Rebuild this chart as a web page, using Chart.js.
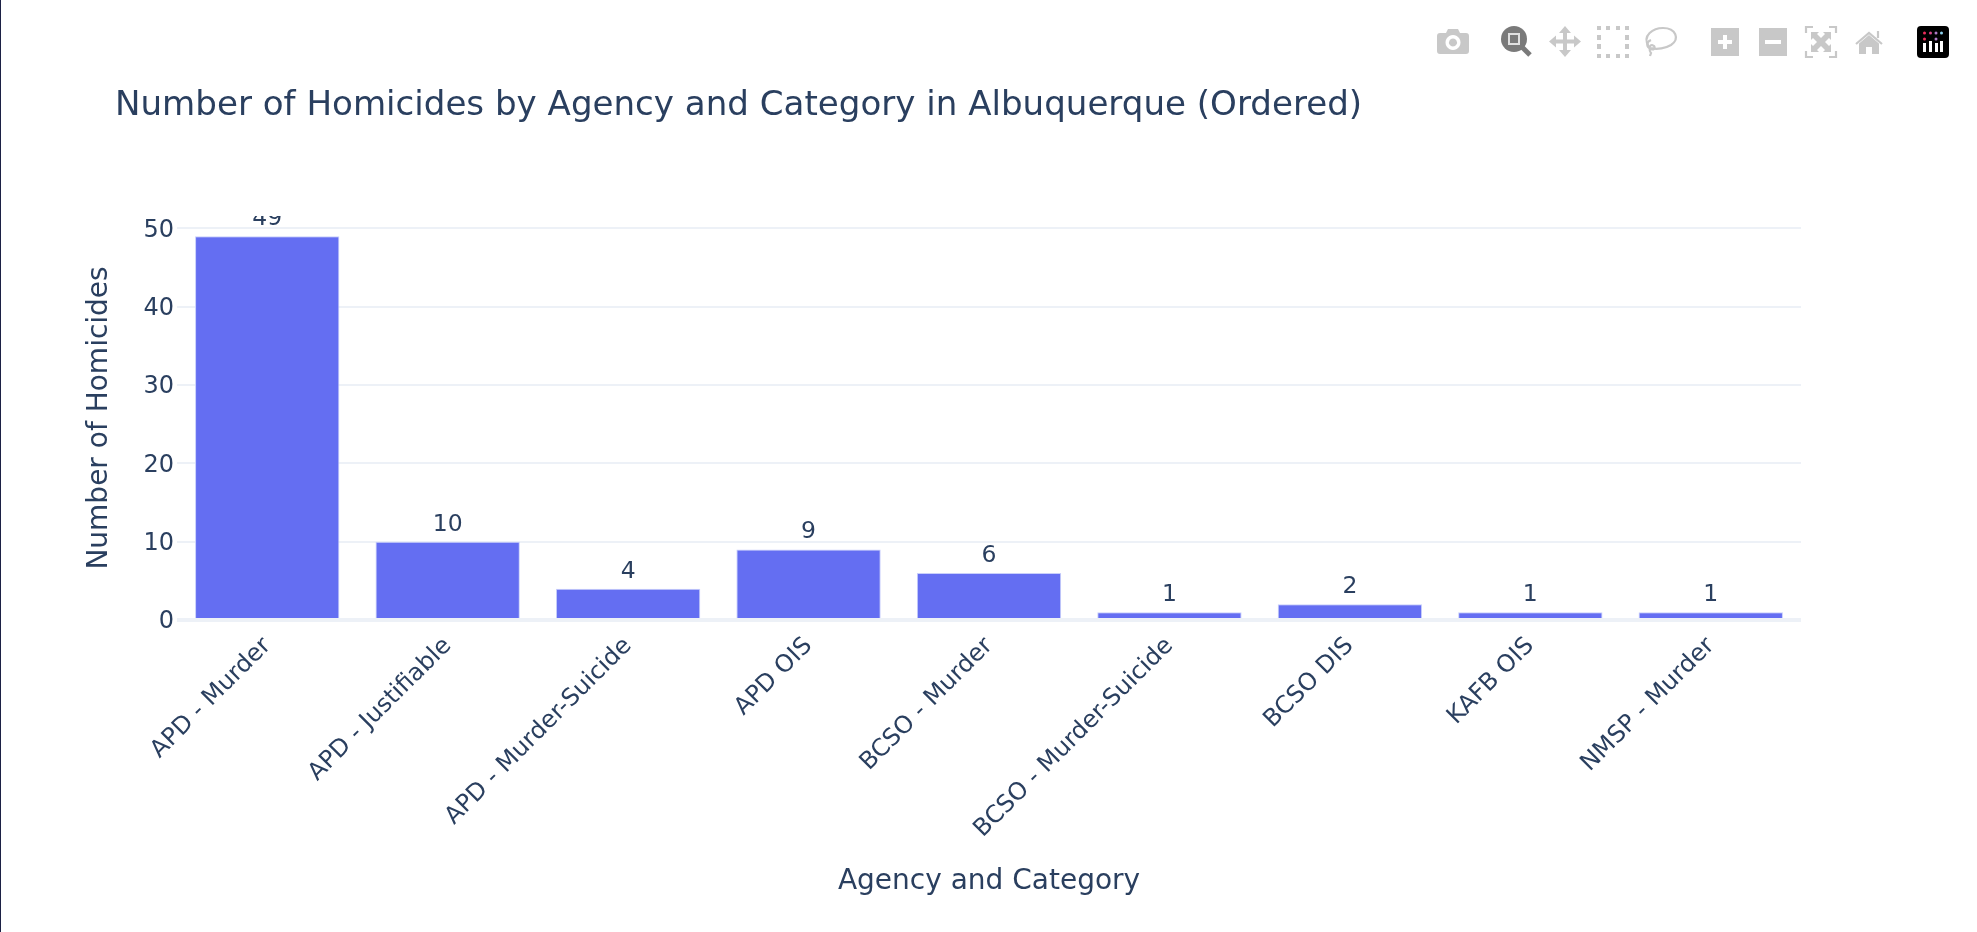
<!DOCTYPE html>
<html>
<head>
<meta charset="utf-8">
<title>Number of Homicides</title>
<script src="https://cdn.jsdelivr.net/npm/chart.js@4/dist/chart.umd.min.js"></script>
<style>
  html, body { margin: 0; padding: 0; background: #fff; overflow: hidden; }
  #wrap { position: relative; width: 1977px; height: 932px; }
  #edge { position: absolute; left: 0; top: 0; width: 1px; height: 932px; background: #1c2145; }
  #modebar { position: absolute; left: 0; top: 0; }
</style>
</head>
<body>
<div id="wrap">
  <canvas id="chart" width="1977" height="932"></canvas>
  <div id="edge"></div>
  <svg id="modebar" width="1977" height="80" viewBox="0 0 1977 80">
    <g fill="#c8c8c8">
      <!-- camera -->
      <path transform="translate(1437 29)" fill-rule="evenodd" d="M3 4h6l2-4h10l2 4h6q3 0 3 3v15q0 3-3 3h-26q-3 0-3-3v-15q0-3 3-3zM16 6a7.500 7.500 0 1 0 .01 0zM16 9.500a4 4 0 1 1-.01 0z"/>
      <!-- pan -->
      <path transform="translate(1549 26)" d="M16 0l6 7h-4v6.500h7v-4l7 6-7 6v-4h-7v6.500h4l-6 7-6-7h4v-6.500h-7v4l-7-6 7-6v4h7v-6.500h-4z"/>
      <!-- box select -->
      <path transform="translate(1597 26)" d="M0 0h4v4h-4zM9 0h4v4h-4zM19 0h4v4h-4zM28 0h4v4h-4zM0 9h4v5h-4zM28 9h4v5h-4zM0 18h4v5h-4zM28 18h4v5h-4zM0 28h4v4h-4zM9 28h4v4h-4zM19 28h4v4h-4zM28 28h4v4h-4z"/>
      <!-- zoom in, zoom out -->
      <path transform="translate(1711 28)" fill-rule="evenodd" d="M0 0h28v28h-28zM12 7v5h-5v4h5v5h4v-5h5v-4h-5v-5z"/>
      <path transform="translate(1759 28)" fill-rule="evenodd" d="M0 0h28v28h-28zM6 12v4h16v-4z"/>
      <!-- autoscale arrows -->
      <path transform="translate(1805 26)" d="M6 6h8l-2 2 4 4 4-4-2-2h8v8l-2-2-4 4 4 4 2-2v8h-8l2-2-4-4-4 4 2 2h-8v-8l2 2 4-4-4-4-2 2z"/>
      <!-- home -->
      <path transform="translate(1855 30)" d="M14 5l10 8.500v10.500h-7v-7h-6v7h-7v-10.500z"/>
    </g>
    <g fill="none" stroke="#c8c8c8" stroke-width="2.200">
      <g transform="translate(1645 27)">
        <path d="M4 20c-8-12 5-19 14-19 13 0 17 11 8 17-5 3-14 5-20 3"/>
        <path d="M6 13c-5 2-5 7 0 9 4 2 5-3 1-4-3 0-3 6-1 8l-1 3"/>
      </g>
      <path transform="translate(1805 26)" d="M1 7v-6h7M24 1h7v6M1 25v6h7M24 31h7v-6"/>
      <path transform="translate(1855 30)" d="M1 14l13-11 13 11M23 1v7"/>
    </g>
    <!-- zoom, active -->
    <circle cx="1514" cy="39" r="13" fill="#7a7a7a"/>
    <rect x="1509" y="34" width="10" height="10" fill="#7a7a7a" stroke="#e0e0e0" stroke-width="2"/>
    <path d="M1522 47l8 8" stroke="#7a7a7a" stroke-width="5" fill="none"/>
    <!-- plotly logo -->
    <rect x="1917" y="26" width="32" height="32" rx="4" fill="#000"/>
    <g fill="#fff">
      <rect x="1923" y="43" width="3" height="9"/><rect x="1929" y="41" width="3" height="11"/>
      <rect x="1935" y="43" width="3" height="9"/><rect x="1940" y="41" width="3" height="11"/>
    </g>
    <circle cx="1924.500" cy="33" r="1.500" fill="#ef2c5b"/><circle cx="1924.500" cy="39" r="1.500" fill="#ef2c5b"/>
    <circle cx="1930.500" cy="33" r="1.500" fill="#d6458a"/><circle cx="1936" cy="33" r="1.500" fill="#b07ac6"/>
    <circle cx="1936" cy="39" r="1.500" fill="#b07ac6"/><circle cx="1941.500" cy="33" r="1.500" fill="#8fd3f0"/>
  </svg>
</div>
<script>
const titleText = 'Number of Homicides by Agency and Category in Albuquerque (Ordered)';
const xAxisTitle = 'Agency and Category';
const yAxisTitle = 'Number of Homicides';
const categories = [
  'APD - Murder',
  'APD - Justifiable',
  'APD - Murder-Suicide',
  'APD OIS',
  'BCSO - Murder',
  'BCSO - Murder-Suicide',
  'BCSO DIS',
  'KAFB OIS',
  'NMSP - Murder',
];
const homicides = [49, 10, 4, 9, 6, 1, 2, 1, 1];

const textColor = '#2a3f5f';
const fontFamily = '"DejaVu Sans", Verdana, sans-serif';

// value labels sit above the bars and get cut off at the plot top, like the original
const barLabels = {
  id: 'barLabels',
  afterDatasetsDraw(chart) {
    const { ctx, chartArea } = chart;
    const bars = chart.getDatasetMeta(0).data;
    ctx.save();
    ctx.beginPath();
    ctx.rect(chartArea.left, chartArea.top, chartArea.right - chartArea.left, chartArea.bottom - chartArea.top);
    ctx.clip();
    ctx.fillStyle = textColor;
    ctx.font = `23.5px ${fontFamily}`;
    ctx.textAlign = 'center';
    ctx.textBaseline = 'alphabetic';
    bars.forEach((bar, i) => {
      ctx.fillText(String(homicides[i]), bar.x, bar.y - 11);
    });
    ctx.restore();
  },
};

// move the title to where the original has it
const titleLeft = {
  id: 'titleLeft',
  afterLayout(chart) {
    chart.titleBlock.left = 115;
  },
};

const ctx = document.getElementById('chart').getContext('2d');
const chart = new Chart(ctx, {
  type: 'bar',
  data: {
    labels: categories,
    datasets: [
      {
        data: homicides,
        backgroundColor: '#646ef2',
        borderColor: '#c9cffb',
        borderWidth: 1,
        barPercentage: 0.8,
        categoryPercentage: 1,
      },
    ],
  },
  plugins: [barLabels, titleLeft],
  options: {
    responsive: false,
    animation: false,
    layout: { padding: { left: 0, right: 176, top: 0, bottom: 0 } },
    plugins: {
      legend: { display: false },
      tooltip: { enabled: false },
      title: {
        display: true,
        text: titleText,
        align: 'start',
        color: textColor,
        font: { family: fontFamily, size: 34.1, weight: 'normal' },
        padding: { top: 86, bottom: 89 },
      },
    },
    scales: {
      x: {
        afterFit: (scale) => { scale.height = 312; },
        grid: { display: false },
        border: { display: false },
        ticks: {
          color: textColor,
          font: { family: fontFamily, size: 24 },
          minRotation: 45,
          maxRotation: 45,
          autoSkip: false,
          padding: 4,
        },
        title: {
          display: true,
          text: xAxisTitle,
          color: textColor,
          font: { family: fontFamily, size: 28 },
          padding: { top: 0, bottom: 33 },
        },
      },
      y: {
        min: 0,
        max: 51.58,
        afterFit: (scale) => { scale.width = 177; },
        grid: {
          color: '#edf1f7',
          lineWidth: (c) => (c.tick && c.tick.value === 0 ? 4 : 2),
          drawTicks: false,
        },
        border: { display: false },
        ticks: {
          color: textColor,
          font: { family: fontFamily, size: 24 },
          stepSize: 10,
          includeBounds: false,
          padding: 3,
          labelOffset: 2,
        },
        title: {
          display: true,
          text: yAxisTitle,
          color: textColor,
          font: { family: fontFamily, size: 28 },
          padding: { top: 83, bottom: 0 },
        },
      },
    },
  },
});
</script>
</body>
</html>
